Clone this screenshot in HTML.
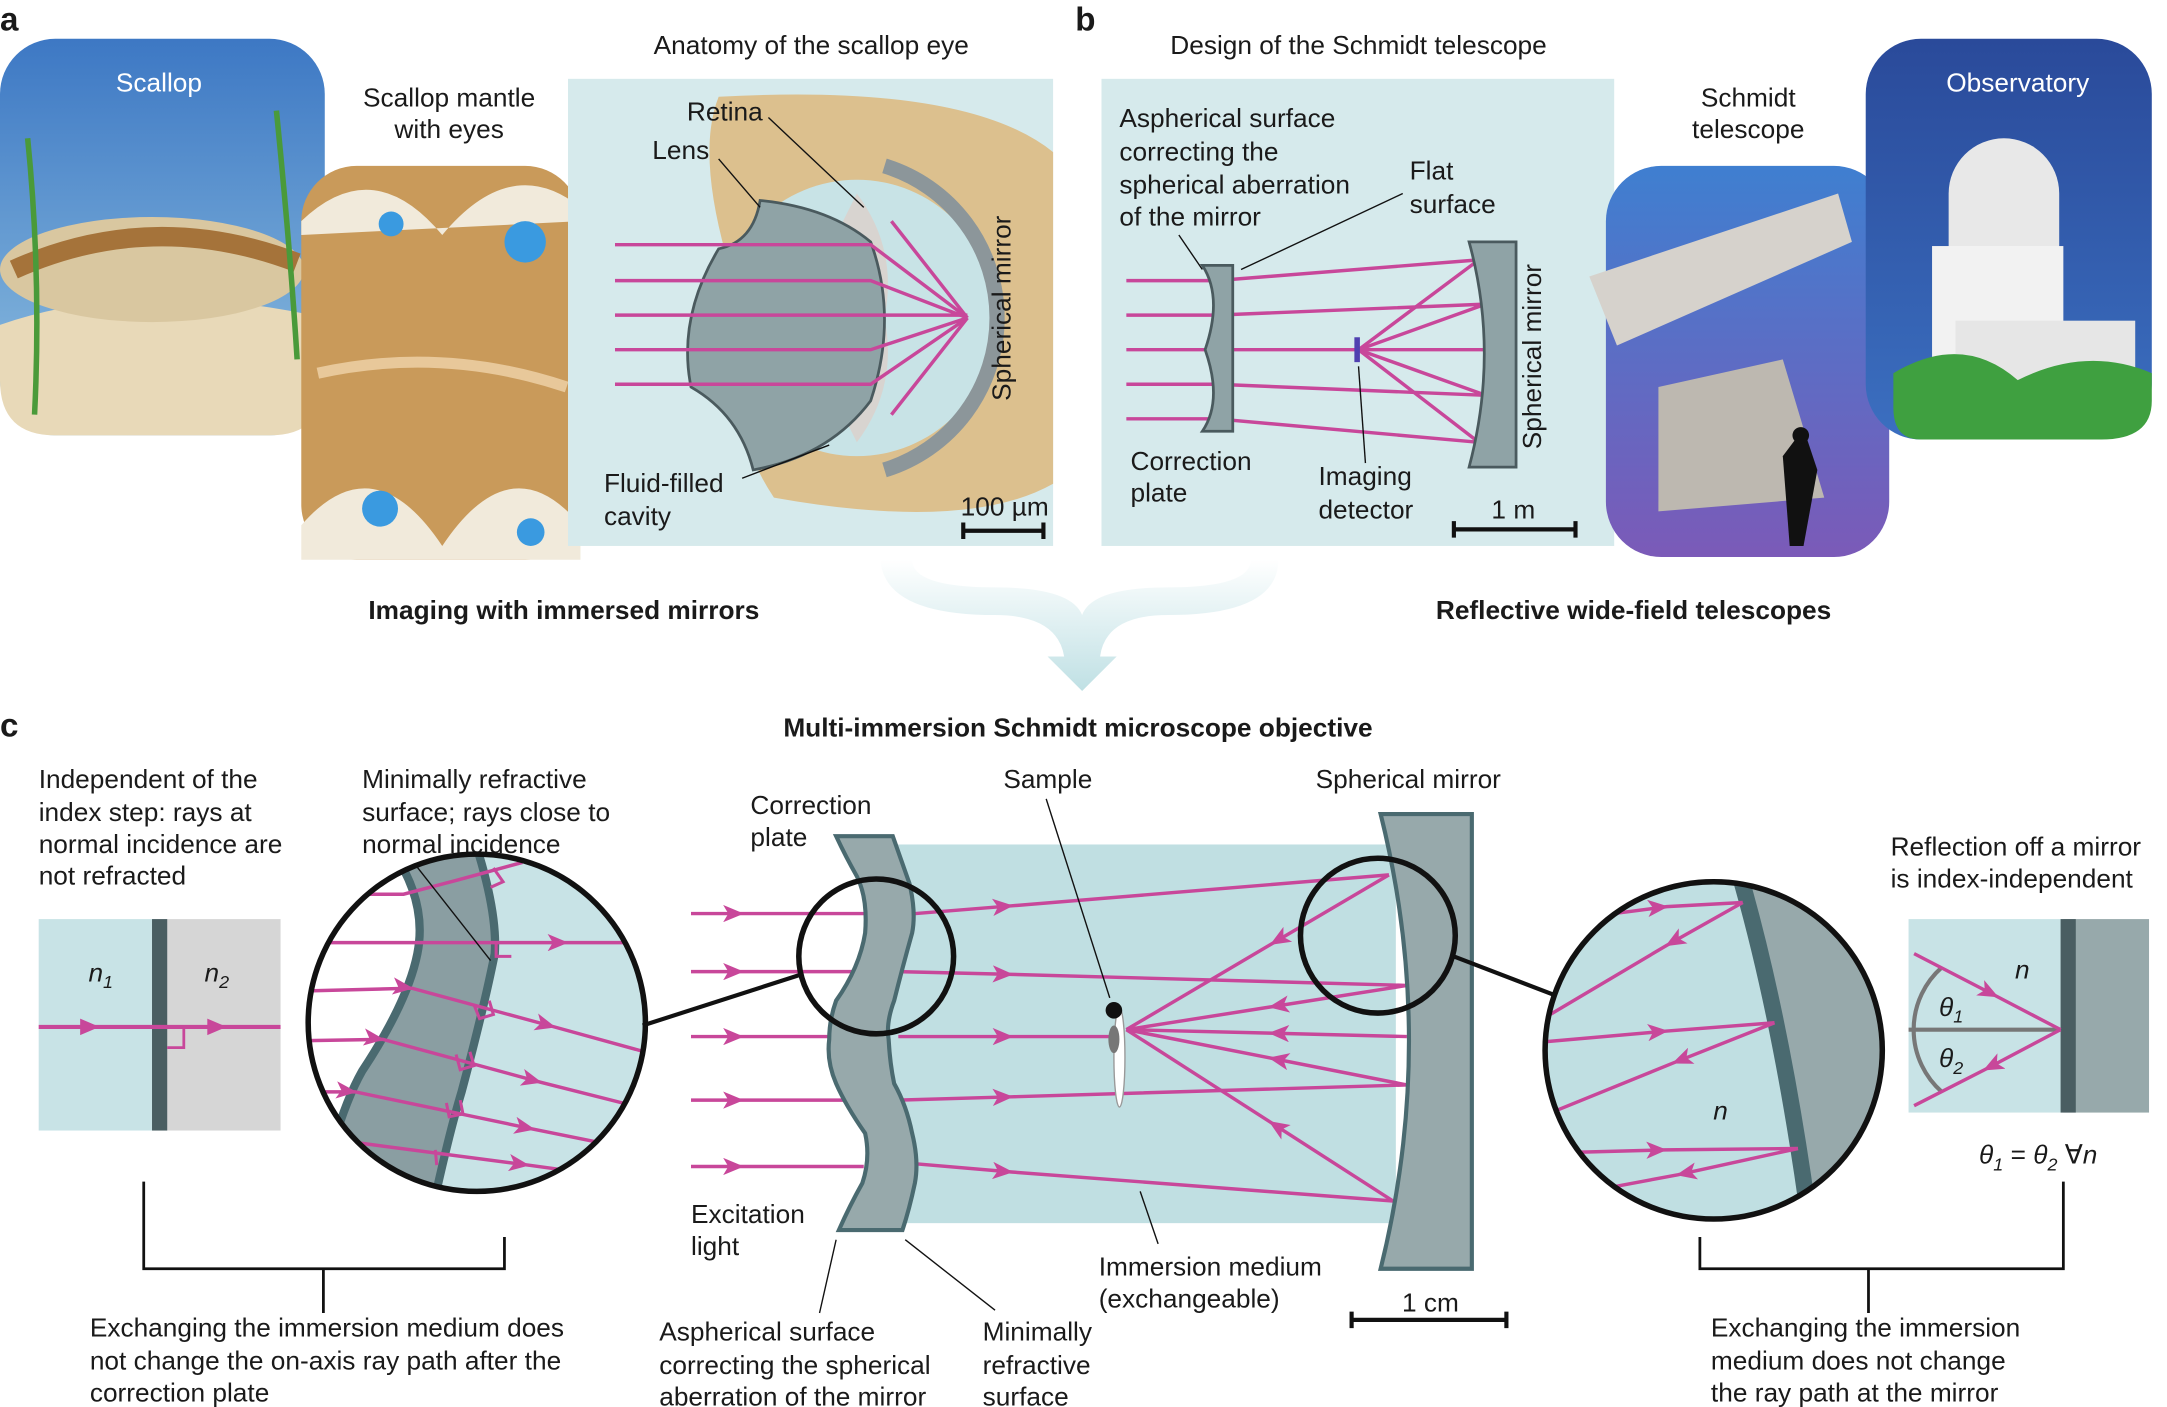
<!DOCTYPE html>
<html><head><meta charset="utf-8">
<style>
html,body{margin:0;padding:0;background:#fff;}
svg{display:block;}
text{font-family:"Liberation Sans",sans-serif;fill:#1a1a1a;}
</style></head>
<body>
<svg width="2167" height="1407" viewBox="0 0 1568 1018" xmlns="http://www.w3.org/2000/svg">
<defs>
<linearGradient id="sea" x1="0" y1="0" x2="0" y2="1"><stop offset="0" stop-color="#3d78c4"/><stop offset="1" stop-color="#8fc0e0"/></linearGradient>
<linearGradient id="tel" x1="0" y1="0" x2="0" y2="1"><stop offset="0" stop-color="#3f7fd0"/><stop offset="1" stop-color="#7b5ab8"/></linearGradient>
<linearGradient id="obs" x1="0" y1="0" x2="0" y2="1"><stop offset="0" stop-color="#2a4a9a"/><stop offset="1" stop-color="#3b6fc0"/></linearGradient>
<linearGradient id="fun" x1="0" y1="0" x2="0" y2="1"><stop offset="0" stop-color="#ffffff"/><stop offset="1" stop-color="#bfe0e4"/></linearGradient>
<marker id="ah" viewBox="0 0 12 10" refX="11" refY="5" markerWidth="6" markerHeight="5" orient="auto" markerUnits="strokeWidth"><path d="M0,0 L12,5 L0,10 L3,5 z" fill="#c8479a"/></marker>
</defs>

<!-- Panel a -->
<text x="0" y="22" font-size="24" font-weight="bold">a</text>
<rect x="0" y="28" width="235" height="287" rx="40" fill="url(#sea)"/>
<path d="M0,235 Q100,200 235,230 L235,275 Q235,315 195,315 L40,315 Q0,315 0,275z" fill="#e8d9b8"/>
<ellipse cx="110" cy="195" rx="110" ry="38" fill="#d9c7a0"/>
<path d="M10,195 Q110,150 215,190" stroke="#a5733a" stroke-width="14" fill="none"/>
<path d="M20,100 Q30,200 25,300 M200,80 Q210,180 215,260" stroke="#4a9a3a" stroke-width="4" fill="none"/>
<text x="115" y="66" font-size="19" text-anchor="middle" style="fill:#fff">Scallop</text>

<rect x="218" y="120" width="202" height="285" rx="40" fill="#c99a5a"/>
<path d="M218,160 Q270,110 320,170 Q370,110 420,150 L420,160 L218,170z" fill="#f1eadb"/>
<path d="M218,380 Q270,320 320,395 Q370,320 420,380 L420,405 L218,405z" fill="#f1eadb"/>
<path d="M230,270 Q320,250 410,280" stroke="#e8c89a" stroke-width="8" fill="none"/>
<circle cx="283" cy="162" r="9" fill="#3a9ae0"/><circle cx="380" cy="175" r="15" fill="#3a9ae0"/>
<circle cx="275" cy="368" r="13" fill="#3a9ae0"/><circle cx="384" cy="385" r="10" fill="#3a9ae0"/>
<text x="325" y="77" font-size="19" text-anchor="middle">Scallop mantle</text>
<text x="325" y="100" font-size="19" text-anchor="middle">with eyes</text>

<text x="587" y="39" font-size="19" text-anchor="middle">Anatomy of the scallop eye</text>
<rect x="411" y="57" width="351" height="338" fill="#d6eaec"/>
<path d="M520,70 Q700,60 762,110 L762,350 Q700,385 560,360 Q520,300 540,230 Q500,120 520,70z" fill="#dcc08e"/>
<circle cx="620" cy="230" r="100" fill="#c8e3e6"/>
<path d="M640,120 A115,115 0 0 1 640,340" stroke="#8c969a" stroke-width="11" fill="none"/>
<path d="M620,140 Q650,180 640,230 Q650,280 620,320 L610,300 Q625,230 610,160z" fill="#d8d4d0"/>
<path d="M550,145 Q600,150 630,175 Q650,230 630,290 Q600,330 545,340 Q535,300 500,280 Q490,230 520,180 Q545,175 550,145z" fill="#8fa3a6" stroke="#4a5a5e" stroke-width="2"/>
<g stroke="#c8479a" stroke-width="2.5" fill="none">
<path d="M445,177 L630,177 L700,230"/><path d="M445,203 L630,203 L700,230"/><path d="M445,228 L700,228"/><path d="M445,253 L630,253 L700,230"/><path d="M445,278 L630,278 L700,230"/>
<path d="M700,230 L645,160 M700,230 L645,300"/>
</g>
<text x="731" y="290" font-size="19" transform="rotate(-90 731 290)">Spherical mirror</text>
<text x="497" y="87" font-size="19">Retina</text><line x1="556" y1="85" x2="625" y2="150" stroke="#111"/>
<text x="472" y="115" font-size="19">Lens</text><line x1="520" y1="115" x2="550" y2="150" stroke="#111"/>
<text x="437" y="356" font-size="19">Fluid-filled</text><text x="437" y="380" font-size="19">cavity</text>
<line x1="537" y1="346" x2="600" y2="322" stroke="#111"/>
<text x="727" y="373" font-size="19" text-anchor="middle">100 µm</text>
<path d="M697,378 V390 M697,384 H755 M755,378 V390" stroke="#111" stroke-width="3" fill="none"/>

<!-- Panel b -->
<text x="778" y="22" font-size="24" font-weight="bold">b</text>
<text x="983" y="39" font-size="19" text-anchor="middle">Design of the Schmidt telescope</text>
<rect x="797" y="57" width="371" height="338" fill="#d6eaec"/>
<g stroke="#c8479a" stroke-width="2.5" fill="none">
<path d="M815,203 L880,203 L1070,188 L983,253"/><path d="M815,228 L880,228 L1075,220 L983,253"/><path d="M815,253 L1078,253"/><path d="M815,278 L880,278 L1075,286 L983,253"/><path d="M815,303 L880,303 L1070,320 L983,253"/>
</g>
<path d="M870,192 L892,192 L892,312 L870,312 Q885,290 872,253 Q885,215 870,192z" fill="#8fa3a6" stroke="#4a5a5e" stroke-width="2"/>
<path d="M1063,175 L1097,175 L1097,338 L1063,338 Q1085,255 1063,175z" fill="#8fa3a6" stroke="#4a5a5e" stroke-width="2"/>
<rect x="980" y="244" width="4" height="18" fill="#5040b0"/>
<text x="1115" y="325" font-size="19" transform="rotate(-90 1115 325)">Spherical mirror</text>
<text x="810" y="92" font-size="19">Aspherical surface</text><text x="810" y="116" font-size="19">correcting the</text>
<text x="810" y="140" font-size="19">spherical aberration</text><text x="810" y="163" font-size="19">of the mirror</text>
<line x1="853" y1="170" x2="870" y2="195" stroke="#111"/>
<text x="1020" y="130" font-size="19">Flat</text><text x="1020" y="154" font-size="19">surface</text>
<line x1="1015" y1="140" x2="898" y2="195" stroke="#111"/>
<text x="818" y="340" font-size="19">Correction</text><text x="818" y="363" font-size="19">plate</text>
<text x="954" y="351" font-size="19">Imaging</text><text x="954" y="375" font-size="19">detector</text>
<line x1="988" y1="335" x2="983" y2="265" stroke="#111"/>
<text x="1095" y="375" font-size="19" text-anchor="middle">1 m</text>
<path d="M1052,377 V389 M1052,383 H1140 M1140,377 V389" stroke="#111" stroke-width="3" fill="none"/>

<rect x="1162" y="120" width="205" height="283" rx="40" fill="url(#tel)"/>
<path d="M1150,200 L1330,140 L1340,175 L1170,250z" fill="#d6d2cc"/>
<path d="M1200,280 L1290,260 L1320,360 L1200,370z" fill="#bdb8b0"/>
<path d="M1290,330 L1305,310 L1315,340 L1305,395 L1295,395z" fill="#111"/><circle cx="1303" cy="315" r="6" fill="#111"/>
<text x="1265" y="77" font-size="19" text-anchor="middle">Schmidt</text><text x="1265" y="100" font-size="19" text-anchor="middle">telescope</text>

<rect x="1350" y="28" width="207" height="290" rx="40" fill="url(#obs)"/>
<path d="M1410,180 L1410,140 A40,40 0 0 1 1490,140 L1490,180z" fill="#e8e8e8"/>
<rect x="1398" y="178" width="95" height="100" fill="#f2f2f2"/>
<rect x="1415" y="232" width="130" height="50" fill="#e6e6e6"/>
<path d="M1370,270 Q1420,240 1460,275 Q1510,250 1557,270 L1557,290 Q1557,318 1520,318 L1390,318 Q1370,318 1370,295z" fill="#3fa040"/>
<text x="1460" y="66" font-size="19" text-anchor="middle" style="fill:#fff">Observatory</text>

<text x="408" y="448" font-size="19" font-weight="bold" text-anchor="middle">Imaging with immersed mirrors</text>
<text x="1182" y="448" font-size="19" font-weight="bold" text-anchor="middle">Reflective wide-field telescopes</text>
<path d="M637,405 Q640,445 720,445 Q765,445 770,475 L758,475 L783,500 L808,475 L796,475 Q800,445 845,445 Q925,445 925,405 L905,405 Q905,425 845,425 Q790,425 783,445 Q775,425 720,425 Q660,425 660,405z" fill="url(#fun)"/>

<!-- Panel c -->
<text x="0" y="533" font-size="24" font-weight="bold">c</text>
<text x="780" y="533" font-size="19" font-weight="bold" text-anchor="middle">Multi-immersion Schmidt microscope objective</text>

<text x="28" y="570" font-size="19">Independent of the</text><text x="28" y="594" font-size="19">index step: rays at</text>
<text x="28" y="617" font-size="19">normal incidence are</text><text x="28" y="640" font-size="19">not refracted</text>
<rect x="28" y="665" width="85" height="153" fill="#c8e3e6"/><rect x="113" y="665" width="90" height="153" fill="#d6d6d6"/>
<rect x="110" y="665" width="11" height="153" fill="#4a5e62"/>
<line x1="28" y1="743" x2="203" y2="743" stroke="#c8479a" stroke-width="3"/>
<path d="M58,737 L72,743 L58,749z M150,737 L164,743 L150,749z" fill="#c8479a"/>
<path d="M121,758 H133 V743" stroke="#c8479a" stroke-width="2" fill="none"/>
<text x="64" y="710" font-size="19" font-style="italic">n<tspan font-size="13" dy="5">1</tspan></text>
<text x="148" y="710" font-size="19" font-style="italic">n<tspan font-size="13" dy="5">2</tspan></text>

<text x="262" y="570" font-size="19">Minimally refractive</text><text x="262" y="594" font-size="19">surface; rays close to</text>
<text x="262" y="617" font-size="19">normal incidence</text>

<clipPath id="c1"><circle cx="345" cy="740" r="122"/></clipPath>
<g clip-path="url(#c1)">
<rect x="220" y="615" width="250" height="250" fill="#fff"/>
<path d="M280,610 Q310,650 302,690 Q295,725 262,775 Q245,805 230,870 L470,870 L470,610z" fill="#c8e3e6"/>
<path d="M280,610 Q310,650 302,690 Q295,725 262,775 Q245,805 230,870 L314,870 Q325,820 334,790 Q350,730 358,690 Q360,660 344,610z" fill="#8a9ea2" stroke="#4a6a70" stroke-width="6"/>
<g stroke="#c8479a" stroke-width="2.5" fill="none">
<path d="M220,647 L292,647 L330,637 L378,624"/>
<path d="M220,682 L410,682 L470,682" marker-mid="url(#ah)"/>
<path d="M220,717 L298,715 L401,743 L470,762" marker-mid="url(#ah)"/>
<path d="M220,753 L277,752 L391,783 L470,803" marker-mid="url(#ah)"/>
<path d="M220,790 L257,790 L386,817 L470,834" marker-mid="url(#ah)"/>
<path d="M220,824 L260,827 L382,843 L470,855" marker-mid="url(#ah)"/>
</g>
<g stroke="#c8479a" stroke-width="2.2" fill="none">
<path d="M357,628 L364,638 L355,642"/>
<path d="M359,682 V692 H370"/>
<path d="M343,727 L347,737 L357,734 L354,724"/>
<path d="M330,763 L333,774 L343,771 L340,761"/>
<path d="M323,798 L325,808 L335,806 L333,796"/>
<path d="M315,832 L316,843"/>
</g>
</g>
<circle cx="345" cy="740" r="122" fill="none" stroke="#111" stroke-width="4"/>
<line x1="300" y1="625" x2="355" y2="695" stroke="#111"/>
<line x1="465" y1="742" x2="580" y2="705" stroke="#111" stroke-width="3"/>

<text x="543" y="589" font-size="19">Correction</text><text x="543" y="612" font-size="19">plate</text>
<text x="726" y="570" font-size="19">Sample</text>
<text x="952" y="570" font-size="19">Spherical mirror</text>
<rect x="630" y="611" width="380" height="274" fill="#c0dfe2"/>
<g stroke="#c8479a" stroke-width="2.5" fill="none" marker-mid="url(#ah)">
<path d="M500,661 L537,661 L625,661"/>
<path d="M500,703 L537,703 L625,703"/>
<path d="M500,750 L537,750 L625,750"/>
<path d="M500,796 L537,796 L625,796"/>
<path d="M500,844 L537,844 L625,844"/>
<path d="M650,662 L732,655.4 L1005,633"/>
<path d="M650,703 L732,705 L1018,713"/>
<path d="M650,750 L732,750 L812,750"/>
<path d="M650,796 L732,793.6 L1018,785"/>
<path d="M650,841 L732,848 L1008,869"/>
<path d="M1005,633 L920,683 L815,745"/>
<path d="M1018,713 L919,728.6 L815,745"/>
<path d="M1018,750 L919,747.5 L815,745"/>
<path d="M1018,785 L919,765.5 L815,745"/>
<path d="M1008,869 L919,811.8 L815,745"/>
</g>
<path d="M605,605 L646,605 Q652,622 658,639 Q663,660 660,675 Q653,700 647,724 Q641,740 643,752 Q644,770 647,784 Q656,800 660,820 Q665,840 662,856 Q658,875 653,890 L607,890 Q615,872 624,856 Q630,838 626,820 Q612,800 605,784 Q598,768 600,752 Q600,738 605,724 Q622,700 626,675 Q628,650 620,634 Q612,620 605,605z" fill="#97a9ab" stroke="#4a6a70" stroke-width="3"/>
<path d="M999,589 L1065,589 L1065,918 L999,918 Q1040,753 999,589z" fill="#97a9ab" stroke="#4a6a70" stroke-width="3"/>
<ellipse cx="810" cy="765" rx="4" ry="36" fill="#fff" stroke="#999"/>
<ellipse cx="806" cy="752" rx="4" ry="10" fill="#777"/>
<circle cx="806" cy="731" r="6" fill="#111"/>
<line x1="757" y1="578" x2="803" y2="722" stroke="#111"/>
<circle cx="634" cy="692" r="56" fill="none" stroke="#111" stroke-width="4"/>
<circle cx="997" cy="677" r="56" fill="none" stroke="#111" stroke-width="4"/>
<line x1="1052" y1="692" x2="1130" y2="722" stroke="#111" stroke-width="3"/>
<text x="500" y="885" font-size="19">Excitation</text><text x="500" y="908" font-size="19">light</text>
<text x="795" y="923" font-size="19">Immersion medium</text><text x="795" y="946" font-size="19">(exchangeable)</text>
<line x1="838" y1="900" x2="825" y2="862" stroke="#111"/>
<text x="1035" y="949" font-size="19" text-anchor="middle">1 cm</text>
<path d="M978,949 V961 M978,955 H1090 M1090,949 V961" stroke="#111" stroke-width="3" fill="none"/>
<line x1="593" y1="950" x2="605" y2="897" stroke="#111"/>
<line x1="720" y1="948" x2="655" y2="897" stroke="#111"/>
<text x="477" y="970" font-size="19">Aspherical surface</text><text x="477" y="994" font-size="19">correcting the spherical</text><text x="477" y="1017" font-size="19">aberration of the mirror</text>
<text x="711" y="970" font-size="19">Minimally</text><text x="711" y="994" font-size="19">refractive</text><text x="711" y="1017" font-size="19">surface</text>

<clipPath id="c2"><circle cx="1240" cy="760" r="122"/></clipPath>
<g clip-path="url(#c2)">
<rect x="1115" y="635" width="250" height="250" fill="#c0dfe2"/>
<path d="M1258,630 Q1290,740 1310,890 L1370,890 L1370,630z" fill="#97a9ab"/>
<path d="M1258,630 Q1290,740 1310,890" stroke="#4a6a70" stroke-width="12" fill="none"/>
<g stroke="#c8479a" stroke-width="2.5" fill="none" marker-mid="url(#ah)">
<path d="M1160,662 L1206,656 L1261,653"/><path d="M1261,653 L1206,684 L1115,738"/>
<path d="M1115,754 L1206,746 L1284,740"/><path d="M1284,740 L1211,769 L1120,806"/>
<path d="M1130,834 L1205,832 L1301,831"/><path d="M1301,831 L1214,850 L1150,862"/>
</g>
</g>
<circle cx="1240" cy="760" r="122" fill="none" stroke="#111" stroke-width="4"/>
<text x="1245" y="810" font-size="19" font-style="italic" text-anchor="middle">n</text>

<text x="1368" y="619" font-size="19">Reflection off a mirror</text><text x="1368" y="642" font-size="19">is index-independent</text>
<rect x="1381" y="665" width="112" height="140" fill="#c8e3e6"/><rect x="1493" y="665" width="62" height="140" fill="#97a9ab"/>
<rect x="1491" y="665" width="11" height="140" fill="#4a5e62"/>
<line x1="1381" y1="745" x2="1491" y2="745" stroke="#777" stroke-width="3"/>
<path d="M1405,700 A60,60 0 0 0 1405,790" stroke="#777" stroke-width="3" fill="none"/>
<g stroke="#c8479a" stroke-width="2.5" fill="none" marker-mid="url(#ah)"><path d="M1385,690 L1445,721 L1491,745"/><path d="M1491,745 L1436,774 L1385,800"/></g>
<text x="1403" y="735" font-size="19" font-style="italic">θ<tspan font-size="13" dy="5">1</tspan></text>
<text x="1403" y="772" font-size="19" font-style="italic">θ<tspan font-size="13" dy="5">2</tspan></text>
<text x="1458" y="708" font-size="19" font-style="italic">n</text>
<text x="1432" y="842" font-size="19" font-style="italic">θ<tspan font-size="13" dy="5">1</tspan><tspan dy="-5" font-style="normal"> = </tspan>θ<tspan font-size="13" dy="5">2</tspan><tspan dy="-5" font-style="normal"> ∀</tspan>n</text>

<g stroke="#111" stroke-width="2" fill="none">
<path d="M104,855 V918 H365 V895 M234,918 V950"/>
<path d="M1230,895 V918 H1493 V855 M1352,918 V950"/>
</g>
<text x="65" y="967" font-size="19">Exchanging the immersion medium does</text><text x="65" y="991" font-size="19">not change the on-axis ray path after the</text><text x="65" y="1014" font-size="19">correction plate</text>
<text x="1238" y="967" font-size="19">Exchanging the immersion</text><text x="1238" y="991" font-size="19">medium does not change</text><text x="1238" y="1014" font-size="19">the ray path at the mirror</text>
</svg>
</body></html>
